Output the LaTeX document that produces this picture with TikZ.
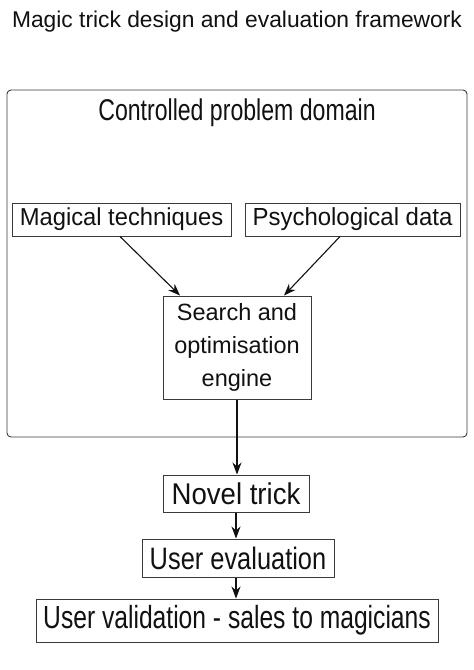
\documentclass[tikz,border=0pt]{standalone}
\usepackage{fontspec}
\usepackage{graphicx}
\setmainfont{Liberation Sans}
\usetikzlibrary{arrows.meta,positioning}
\definecolor{MTLine}{HTML}{3A3A3A}
\definecolor{MTText}{HTML}{111111}
\newcommand{\mtnarrow}[2]{\scalebox{#1}[1]{#2}}
\begin{document}
\begin{tikzpicture}[x=1pt,y=-1pt,>={Stealth[length=12pt,width=9pt]}]
\tikzset{mbox/.style={draw=MTLine,line width=1pt,text=MTText,inner sep=0pt,align=center,font=\fontsize{23.5}{33}\selectfont},mflow/.style={->,line width=1.1pt,draw=MTText}}
\useasboundingbox[fill=white] (0,0) rectangle (474,670);
\node[text=MTText,font=\fontsize{22.8}{26}\selectfont] (title) at (237,22) {Magic trick design and evaluation framework};
\node[draw=MTLine,line width=0.9pt,rounded corners=4pt,minimum width=460pt,minimum height=347pt] (domain) at (237,263.5) {};
\node[text=MTText,font=\fontsize{30}{32}\selectfont] (dlabel) at (237,113) {\mtnarrow{0.77}{Controlled problem domain}};
\node[mbox,minimum width=219pt,minimum height=33pt,font=\fontsize{24.5}{26}\selectfont] (magic) at (121.5,219.5) {\mtnarrow{0.97}{Magical techniques}};
\node[mbox,minimum width=215pt,minimum height=33pt,font=\fontsize{24.7}{26}\selectfont] (psych) at (352.5,219.5) {\mtnarrow{0.97}{Psychological data}};
\node[mbox,minimum width=148pt,minimum height=103pt] (search) at (237,347.5) {Search and\\optimisation\\engine};
\node[mbox,minimum width=146pt,minimum height=37pt,font=\fontsize{30}{32}\selectfont] (novel) at (236,493.5) {\mtnarrow{0.92}{Novel trick}};
\node[mbox,minimum width=192pt,minimum height=38pt,font=\fontsize{31}{33}\selectfont] (userev) at (238,558) {\mtnarrow{0.82}{User evaluation}};
\node[mbox,minimum width=402pt,minimum height=43pt,font=\fontsize{32}{34}\selectfont] (userval) at (237,620.5) {\mtnarrow{0.77}{User validation - sales to magicians}};
\draw[mflow] ([xshift=-1.5pt]magic.south) -- ([xshift=-57pt]search.north);
\draw[mflow] ([xshift=-12.5pt]psych.south) -- ([xshift=47pt]search.north);
\draw[mflow] (search.south) -- (search.south |- novel.north);
\draw[mflow] (novel.south) -- (novel.south |- userev.north);
\draw[mflow] (userev.south -| novel.south) -- (novel.south |- userval.north);
\end{tikzpicture}
\end{document}
